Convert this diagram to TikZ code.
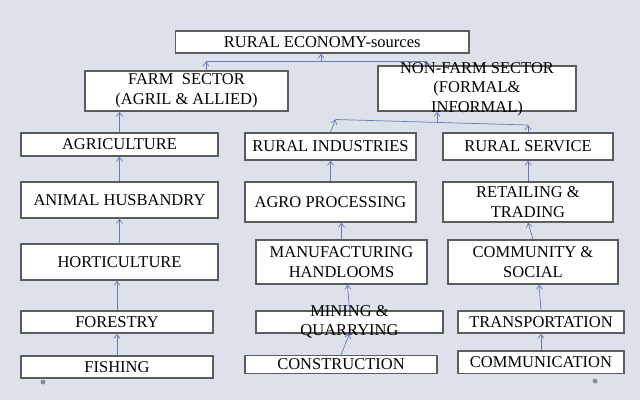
\documentclass[tikz,border=0pt]{standalone}
\usepackage{fontspec}
\setmainfont{Liberation Serif}
\usepackage{tikz}
\usepackage{xcolor}
\usetikzlibrary{arrows.meta}
\definecolor{slidebg}{RGB}{221,225,234}
\definecolor{boxline}{RGB}{92,92,92}
\definecolor{linkblue}{RGB}{104,122,190}
\tikzstyle{sectorBox}=[draw=boxline, fill=white, line width=1.5pt, inner sep=0pt]
\tikzstyle{sectorText}=[align=center, inner sep=0pt, font=\fontsize{16.5}{19.5}\selectfont]
\tikzstyle{sourceLine}=[draw=linkblue, line width=0.7pt]
\tikzstyle{sourceLink}=[sourceLine, -{Straight Barb[length=4pt,width=6pt]}]

\begin{document}
\begin{tikzpicture}[x=1pt, y=-1pt]
  \useasboundingbox (0,0) rectangle (640,400);
  \fill[slidebg] (0,0) rectangle (640,400);

  % Nodes
  \node (economy) at (322.25,42) [sectorBox, minimum width=293.5pt, minimum height=22pt] {};
   \node (economytext) at (322.25,42) [sectorText] {RURAL ECONOMY-sources};

  \node (farm) at (186.5,91) [sectorBox, minimum width=203pt, minimum height=40pt] {};
   \node (farmtext) at (186.5,91) [sectorText] {FARM\ \ SECTOR\\(AGRIL \& ALLIED)};
  \node (nonfarm) at (477,88.5) [sectorBox, minimum width=198pt, minimum height=45pt] {};
   \node (nonfarmtext) at (477,89) [sectorText] {NON-FARM SECTOR\\(FORMAL\&\\INFORMAL)};

  % farm column
  \node (agri) at (119.5,144.5) [sectorBox, minimum width=197pt, minimum height=23pt] {};
   \node (agritext) at (119.5,144.5) [sectorText] {AGRICULTURE};
  \node (animal) at (119.5,200) [sectorBox, minimum width=197pt, minimum height=36pt] {};
   \node (animaltext) at (119.5,200) [sectorText] {ANIMAL HUSBANDRY};
  \node (horti) at (119.5,262) [sectorBox, minimum width=197pt, minimum height=36pt] {};
   \node (hortitext) at (119.5,262) [sectorText] {HORTICULTURE};
  \node (forestry) at (117,322) [sectorBox, minimum width=192pt, minimum height=22pt] {};
   \node (forestrytext) at (117,322) [sectorText] {FORESTRY};
  \node (fishing) at (117,367) [sectorBox, minimum width=192pt, minimum height=22pt] {};
   \node (fishingtext) at (117,367) [sectorText] {FISHING};

  % industry column
  \node (industry) at (330.5,146.5) [sectorBox, minimum width=171pt, minimum height=27pt] {};
   \node (industrytext) at (330.5,146.5) [sectorText] {RURAL INDUSTRIES};
  \node (agro) at (330.5,202) [sectorBox, minimum width=171pt, minimum height=40pt] {};
   \node (agrotext) at (330.5,202) [sectorText] {AGRO PROCESSING};
  \node (manuf) at (341.5,262) [sectorBox, minimum width=171pt, minimum height=44pt] {};
   \node (manuftext) at (341.5,262) [sectorText] {MANUFACTURING\\HANDLOOMS};
  \node (mining) at (349.5,322) [sectorBox, minimum width=187pt, minimum height=22pt] {};
   \node (miningtext) at (349.5,322) [sectorText] {MINING \&\\QUARRYING};
  \node (construction) at (341,364.5) [sectorBox, minimum width=192pt, minimum height=18pt] {};
   \node (constructiontext) at (341,364.5) [sectorText] {CONSTRUCTION};

  % service column
  \node (service) at (528,146.5) [sectorBox, minimum width=170pt, minimum height=27pt] {};
   \node (servicetext) at (528,146.5) [sectorText] {RURAL SERVICE};
  \node (retail) at (528,202) [sectorBox, minimum width=170pt, minimum height=40pt] {};
   \node (retailtext) at (528,202) [sectorText] {RETAILING \&\\TRADING};
  \node (community) at (533,262) [sectorBox, minimum width=170pt, minimum height=44pt] {};
   \node (communitytext) at (533,262) [sectorText] {COMMUNITY \&\\SOCIAL};
  \node (transport) at (541,322) [sectorBox, minimum width=166pt, minimum height=22pt] {};
   \node (transporttext) at (541,322) [sectorText] {TRANSPORTATION};
  \node (communication) at (541,362) [sectorBox, minimum width=166pt, minimum height=22.5pt] {};
   \node (communicationtext) at (541,362) [sectorText] {COMMUNICATION};

  % Joints
  \coordinate (farmjoin) at (206,61.5);
  \coordinate (nonfarmjoin) at (427,61.5);
  \coordinate (economyjoin) at (321,61.5);
  \coordinate (industryjoin) at (335.5,119.5);
  \coordinate (servicejoin) at (528,125);
  \coordinate (nonfarmdrop) at (437,122.4);

  % Connections
  \draw[sourceLink] (farm.north -| farmjoin) -- (farmjoin);
  \draw[sourceLink] (nonfarm.north -| nonfarmjoin) -- (nonfarmjoin);
  \draw[sourceLine] (farmjoin) -- (nonfarmjoin);
  \draw[sourceLink] (economyjoin) -- (economy.south -| economyjoin);

  \draw[sourceLink] (industry.north) -- (industryjoin);
  \draw[sourceLink] (service.north) -- (servicejoin);
  \draw[sourceLine] (industryjoin) -- (servicejoin);
  \draw[sourceLink] (nonfarmdrop) -- (nonfarm.south -| nonfarmdrop);

  \draw[sourceLink] (agri.north) -- (agri.north |- farm.south);
  \draw[sourceLink] (animal.north) -- (agri.south);
  \draw[sourceLink] (horti.north) -- (animal.south);
  \draw[sourceLink] (forestry.north) -- (forestry.north |- horti.south);
  \draw[sourceLink] (fishing.north) -- (forestry.south);

  \draw[sourceLink] (agro.north) -- (industry.south);
  \draw[sourceLink] (manuf.north) -- (manuf.north |- agro.south);
  \draw[sourceLink] (mining.north) -- ([xshift=6pt]manuf.south);
  \draw[sourceLink] (construction.north) -- (mining.south);

  \draw[sourceLink] (retail.north) -- (service.south);
  \draw[sourceLink] (community.north) -- (retail.south);
  \draw[sourceLink] (transport.north) -- ([xshift=6pt]community.south);
  \draw[sourceLink] (communication.north) -- (transport.south);

  % slide dots
  \fill[boxline!70] (43,382) circle (2.5pt);
  \fill[boxline!70] (595,381) circle (2.5pt);

\end{tikzpicture}
\end{document}
